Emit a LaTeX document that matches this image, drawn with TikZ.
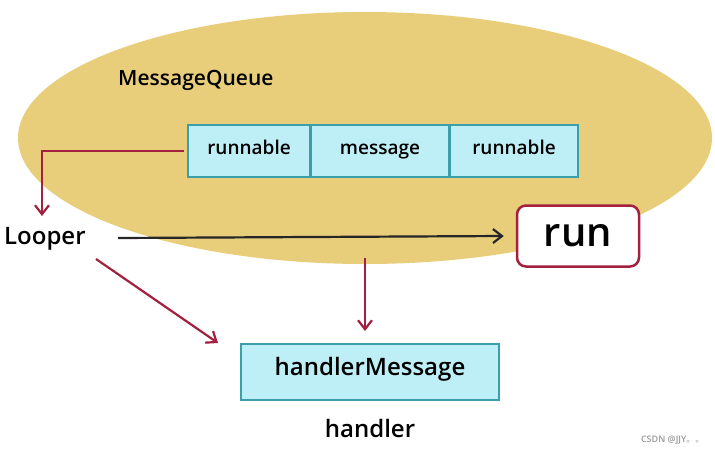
\documentclass[tikz,border=0pt]{standalone}
\usepackage{fontspec}
\setmainfont{Open Sans}[UprightFont=* Semibold]
\newfontfamily\cjk{Noto Sans CJK SC}
\usetikzlibrary{arrows.meta}
\definecolor{ell}{HTML}{E8CE7A}
\definecolor{qf}{HTML}{BFEFF6}
\definecolor{qb}{HTML}{3A9FA8}
\definecolor{dr}{HTML}{A3203F}
\begin{document}
\begin{tikzpicture}[x=1pt,y=-1pt,
 q/.style={draw=qb,line width=1.5pt,fill=qf,minimum height=52pt,inner sep=0pt,text height=1.6ex,text depth=0.45ex,font=\fontsize{19}{22}\selectfont},
 ra/.style={dr,line width=2.2pt,-{Straight Barb[length=9pt,width=14pt]}},
 lbl/.style={font=\fontsize{21}{24}\selectfont,inner sep=0pt}]
\useasboundingbox[fill=white] (0,0) rectangle (715,453);
\fill[ell] (365,138) ellipse [x radius=347, y radius=126];
\node[lbl,anchor=west] (mq) at (118,80) {MessageQueue};
\node[q,minimum width=122pt] (r1) at (249,151) {runnable};
\node[q,minimum width=137pt,anchor=west] (m) at (r1.east) {message};
\node[q,minimum width=128pt,anchor=west] (r2) at (m.east) {runnable};
\node[lbl,font=\fontsize{24}{27}\selectfont,anchor=west] (lp) at (4,239) {Looper};
\node[draw=dr,line width=2.5pt,rounded corners=9pt,fill=white,minimum width=122pt,minimum height=61pt,font=\fontsize{40}{44}\selectfont] (run) at (578,236) {run};
\node[q,minimum width=258pt,minimum height=56pt,font=\fontsize{24}{28}\selectfont] (hm) at (370,372) {handlerMessage};
\node[lbl,font=\fontsize{24}{28}\selectfont] (h) at (370,428) {handler};
\coordinate (c1) at (42,151);
\coordinate (c2) at (42,216);
\coordinate (la) at (118,238);
\coordinate (d0) at (365,258);
\coordinate (d2) at (365,331);
\coordinate (d1) at (96,259);
\draw[ra] ([xshift=-3pt]r1.west) -- (c1) -- (c2);
\draw[line width=2.2pt,black!85,-{Straight Barb[length=9pt,width=14pt]}] (la) -- ([xshift=-12pt]run.west);
\draw[ra] (d0) -- (d2);
\draw[ra] (d1) -- (218,343);
\node[gray!80,font=\fontsize{9}{10}\selectfont,anchor=east] (wm) at (708,440) {CSDN @JJY{\cjk 。。}};
\end{tikzpicture}
\end{document}
